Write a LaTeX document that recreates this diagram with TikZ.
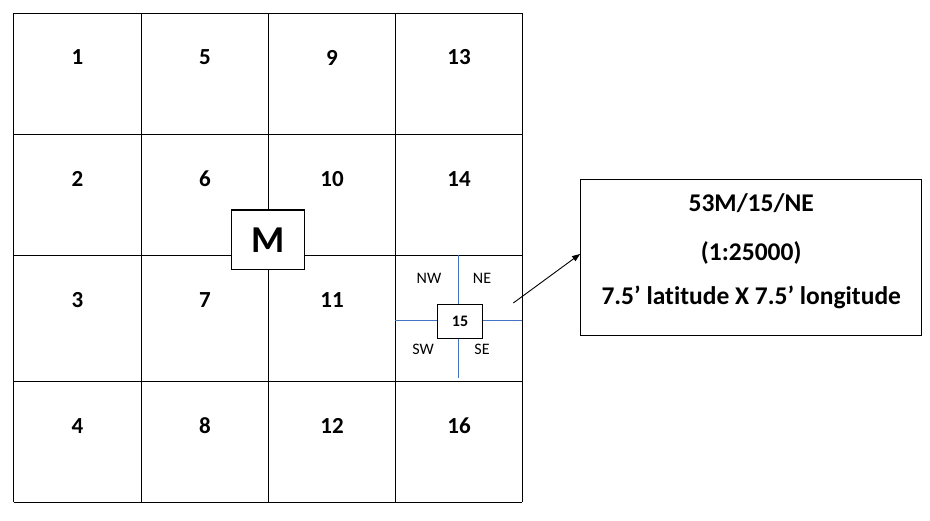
\documentclass[tikz,border=0pt]{standalone}
\usepackage{fontspec}
\setmainfont{Carlito}[Ligatures=NoCommon]
\usetikzlibrary{arrows.meta}
\definecolor{gridblue}{HTML}{4472C4}
\begin{document}
\begin{tikzpicture}[x=1pt,y=-1pt,
  gridline/.style={line width=1.2pt,black},
  quadline/.style={line width=0.9pt,gridblue},
  cellnum/.style={font=\fontsize{23}{26}\selectfont\bfseries},
  quadlab/.style={font=\fontsize{16}{18}\selectfont},
  infotext/.style={font=\fontsize{25.5}{29}\selectfont\bfseries},
  whitebox/.style={draw,line width=1.2pt,fill=white,inner sep=0pt}]
\useasboundingbox (0,0) rectangle (930,521);
% grid
\foreach \x in {13.5,141.5,268.3,395.3,522.3}
  \draw[gridline] (\x,13.3) -- (\x,502.3);
\foreach \y in {13.3,134.3,255.2,381.3,502.3}
  \draw[gridline] (13.5,\y) -- (522.3,\y);
% numbers
\foreach \c/\cx in {0/77.5,1/205,2/332,3/459}
  \foreach \r/\ry in {1/57.5,2/179,3/300,4/426}{
    \pgfmathtruncatemacro{\n}{\c*4+\r}
    \ifnum\n=15\else
    \node[cellnum] (n\n) at (\cx,\ry) {\n};
    \fi
  }
% quadrants of 15
\draw[quadline] (458.7,255.2) -- (458.7,378.3);
\draw[quadline] (395.3,320.7) -- (522.3,320.7);
\node[whitebox,minimum width=44.6pt,minimum height=34.4pt,font=\fontsize{16}{18}\selectfont\bfseries] (q15) at (460,321.5) {15};
\node[quadlab] (nw) at (429,278.5) {NW};
\node[quadlab] (ne) at (482,278.5) {NE};
\node[quadlab] (sw) at (423,349.5) {SW};
\node[quadlab] (se) at (482,349.5) {SE};
% M box
\node[whitebox,minimum width=72.6pt,minimum height=59.3pt,font=\fontsize{38}{40}\selectfont\bfseries] (m) at (268,239.7) {M};
% info box
\node[draw,line width=1.2pt,minimum width=341pt,minimum height=156.4pt,inner sep=0pt] (info) at (751.2,257.5) {};
\node[infotext] (l1) at (751.2,203.5) {53M/15/NE};
\node[infotext] (l2) at (751.2,252.5) {(1:25000)};
\node[infotext] (l3) at (751.2,297) {7.5’ latitude X 7.5’ longitude};
% arrow
\coordinate (astart) at (513.3,303);
\draw[line width=0.9pt,-{Triangle[length=8pt,width=6pt]}] (astart) -- (info.west |- 0,254);
\end{tikzpicture}
\end{document}
